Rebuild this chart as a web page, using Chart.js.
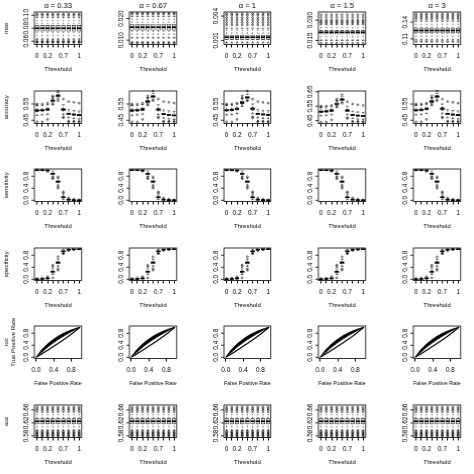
<!DOCTYPE html>
<html><head><meta charset="utf-8">
<script src="https://cdn.jsdelivr.net/npm/chart.js@4"></script>
<style>body{margin:0;background:#fff;width:474px;height:474px;position:relative;overflow:hidden}
.c{position:absolute;width:94.8px;height:79px}</style></head><body>
<script>
const thresholds=['0','0.1','0.2','0.3','0.5','0.7','0.8','0.9','1'];
const thresholdLabels={0:'0',2:'0.2',5:'0.7',8:'1'};
const alphas=['0.33','0.67','1','1.5','3'];
const metrics=['mse','accuracy','sensitivity','specificity','roc','auc'];
// mse per alpha
const mseMed=[0.080,0.016,0.0014,0.021,0.125];
const mseHalf=[0.005,0.0015,0.0003,0.0015,0.005];
const mseWlo=[0.063,0.011,0.0007,0.015,0.108];
const mseWhi=[0.097,0.021,0.0025,0.027,0.142];
const mseOut=[[0.058,0.059,0.060,0.100,0.102],[0.0085,0.009,0.022,0.0225],[0.0029,0.0032,0.0035,0.0038,0.0041,0.0043],[0.013,0.028,0.029,0.030,0.032,0.034],[0.105,0.146,0.149,0.152,0.155]];
const mseRange=[[0.055,0.105],[0.008,0.023],[0.0005,0.0045],[0.012,0.036],[0.10,0.158]];
const mseTicks=[[0.06,0.08,0.10],[0.010,0.020],[0.001,0.004],[0.015,0.030],[0.11,0.14]];
const mseFmt=[[ '0.06','0.08','0.10'],['0.010','0.020'],['0.001','0.004'],['0.015','0.030'],['0.11','0.14']];
// accuracy per alpha x threshold
const accMed=[
[0.510,0.512,0.516,0.570,0.600,0.515,0.490,0.485,0.482],
[0.510,0.512,0.517,0.565,0.595,0.515,0.488,0.483,0.480],
[0.512,0.514,0.520,0.560,0.590,0.520,0.490,0.486,0.484],
[0.512,0.514,0.520,0.565,0.595,0.520,0.490,0.485,0.482],
[0.512,0.514,0.520,0.565,0.595,0.520,0.490,0.485,0.482]];
const accHalf=[0.008,0.008,0.008,0.01,0.01,0.01,0.006,0.006,0.006];
const accWhisk=[0.03,0.03,0.03,0.025,0.02,0.03,0.025,0.025,0.025];
const accOut=[[0.44,0.545,0.55],[0.44,0.55],[0.455,0.555],[0.585,0.6,0.55],[0.63,0.57],[0.47,0.465,0.58],[0.44,0.445,0.565],[0.44,0.445,0.56],[0.44,0.443,0.555]];
const accRange=[[0.43,0.63],[0.43,0.63],[0.43,0.63],[0.43,0.655],[0.43,0.63]];
const accTicks=[[0.45,0.55],[0.45,0.55],[0.45,0.55],[0.45,0.55,0.65],[0.45,0.55]];
// sensitivity / specificity
const sensMed=[1,1,0.995,0.88,0.62,0.10,0.02,0.005,0.0];
const specMed=[0.0,0.01,0.03,0.25,0.55,0.93,0.99,0.998,1];
const ssHalf=[0.004,0.006,0.01,0.035,0.05,0.03,0.01,0.005,0.003];
const ssWhisk=[0.01,0.015,0.025,0.09,0.12,0.08,0.03,0.015,0.008];
const sensOut=[[],[],[0.96],[0.72,0.74],[0.4,0.45,0.78],[0.25,0.28],[0.08],[0.04],[0.02]];
const specOut=[[0.03],[0.05],[0.09],[0.05,0.42,0.47],[0.3,0.35,0.75],[0.85,0.87],[0.95],[0.98],[]];
// ROC
const fpr=[0,0.1,0.2,0.3,0.4,0.5,0.6,0.7,0.8,0.9,1];
const tprUpper=[0,0.2,0.36,0.49,0.6,0.7,0.78,0.85,0.91,0.96,1];
const tprLower=[0,0.13,0.26,0.38,0.49,0.59,0.68,0.77,0.85,0.93,1];
const tprDiag=[0,0.085,0.175,0.27,0.365,0.46,0.56,0.66,0.765,0.88,1];
// auc
const aucMed=[0.625,0.625,0.625,0.625,0.625];
const aucHalf=0.009;
const aucWlo=0.597, aucWhi=0.653;
const aucOut=[0.578,0.581,0.584,0.587,0.590,0.593,0.658,0.663,0.668];
const aucTicks=[0.58,0.62,0.66];

const F='Liberation Sans, Arial, sans-serif';
const boxPlugin={id:'bx',
 beforeDatasetsDraw(ch){const s=ch.canvas.$spec;if(!s||!s.box)return;const c=ch.ctx,x=ch.scales.x,y=ch.scales.y;
  c.save();c.strokeStyle='#000';c.lineWidth=0.6;
  s.box.forEach((b,i)=>{const px=x.getPixelForValue(i),w=x.width/9*0.25;
   c.setLineDash([1.5,1.5]);c.beginPath();c.moveTo(px,y.getPixelForValue(b.lo));c.lineTo(px,y.getPixelForValue(b.hi));c.stroke();
   c.setLineDash([]);c.beginPath();[b.lo,b.hi].forEach(v=>{const py=y.getPixelForValue(v);c.moveTo(px-w,py);c.lineTo(px+w,py);});c.stroke();});
  c.restore();},
 afterDatasetsDraw(ch){const s=ch.canvas.$spec;if(!s)return;const c=ch.ctx,x=ch.scales.x,y=ch.scales.y;c.save();
  if(s.box){s.box.forEach((b,i)=>{const px=x.getPixelForValue(i),w=x.width/9*0.4;
   c.lineWidth=1.6;c.strokeStyle='#000';const py=y.getPixelForValue(b.med);c.beginPath();c.moveTo(px-w,py);c.lineTo(px+w,py);c.stroke();
   c.lineWidth=0.6;b.out.forEach(v=>{c.beginPath();c.arc(px,y.getPixelForValue(v),0.9,0,7);c.stroke();});});}
  const a=ch.chartArea;c.lineWidth=0.8;c.strokeStyle='#000';c.strokeRect(a.left,a.top,a.right-a.left,a.bottom-a.top);
  c.fillStyle='#000';c.font='6.5px '+F;c.textAlign='center';c.textBaseline='bottom';
  s.yt.forEach((v,k)=>{const py=y.getPixelForValue(v);c.beginPath();c.moveTo(a.left,py);c.lineTo(a.left-3,py);c.stroke();
   c.save();c.translate(a.left-5,py);c.rotate(-Math.PI/2);c.fillText(s.yl[k],0,0);c.restore();});
  if(s.ytitle){c.font='6px '+F;s.ytitle.forEach((t,k)=>{c.save();c.translate(6+k*7,(a.top+a.bottom)/2);c.rotate(-Math.PI/2);c.textBaseline='middle';c.fillText(t,0,0);c.restore();});}
  if(s.title){c.font='7.5px '+F;c.textBaseline='middle';c.fillText(s.title,(a.left+a.right)/2,6);}
  c.restore();}};

function mk(r,col,spec){const d=document.createElement('div');d.className='c';d.style.left=(col*94.8)+'px';d.style.top=(r*78.6)+'px';
 const cv=document.createElement('canvas');cv.$spec=spec;d.appendChild(cv);document.body.appendChild(d);
 const isRoc=spec.roc;
 const xs=isRoc?{type:'linear',min:-0.04,max:1.04,afterBuildTicks:sc=>{sc.ticks=[0,0.4,0.8].map(v=>({value:v}));},
   ticks:{font:{size:6.5,family:F},color:'#000',padding:5,maxRotation:0,callback:v=>v.toFixed(1)},grid:{drawOnChartArea:false,tickLength:3,color:'#000'},border:{display:false},
   title:{display:true,text:'False Positive Rate',font:{size:6,family:F},color:'#000',padding:{top:4}}}
  :{type:'category',offset:true,ticks:{font:{size:6.5,family:F},color:'#000',padding:5,maxRotation:0,autoSkip:false,callback:(v,i)=>thresholdLabels[i]||''},
   grid:{drawOnChartArea:false,tickLength:3,color:'#000',offset:false},border:{display:false},
   title:{display:true,text:'Threshold',font:{size:6,family:F},color:'#000',padding:{top:4}}};
 new Chart(cv,{type:isRoc?'line':'bar',
  data:isRoc?{datasets:[
   {data:fpr.map((v,i)=>({x:v,y:tprLower[i]})),borderColor:'#000',borderWidth:0.8,pointRadius:0,fill:false},
   {data:fpr.map((v,i)=>({x:v,y:tprUpper[i]})),borderColor:'#000',backgroundColor:'#000',borderWidth:0.8,pointRadius:0,fill:'-1'},
   {data:fpr.map((v,i)=>({x:v,y:tprDiag[i]})),borderColor:'#000',borderWidth:1.2,pointRadius:0,fill:false}]}
  :{labels:thresholds,datasets:[{data:spec.box.map(b=>[b.q1,b.q3]),backgroundColor:'#d3d3d3',borderColor:'#000',borderWidth:0.7,borderSkipped:false,barPercentage:0.8,categoryPercentage:1}]},
  options:{responsive:true,maintainAspectRatio:false,animation:false,events:[],
   layout:{padding:{left:26,top:12,right:14,bottom:2}},
   plugins:{legend:{display:false},tooltip:{enabled:false}},
   scales:{x:xs,y:{min:spec.ymin,max:spec.ymax,ticks:{display:false},grid:{display:false},border:{display:false}}}},
  plugins:[boxPlugin]});}

for(let a=0;a<5;a++){
 mk(0,a,{title:'\u03b1 = '+alphas[a],ytitle:a===0?['mse']:null,ymin:mseRange[a][0],ymax:mseRange[a][1],yt:mseTicks[a],yl:mseFmt[a],
  box:thresholds.map(()=>({med:mseMed[a],q1:mseMed[a]-mseHalf[a],q3:mseMed[a]+mseHalf[a],lo:mseWlo[a],hi:mseWhi[a],out:mseOut[a]}))});
 mk(1,a,{ytitle:a===0?['accuracy']:null,ymin:accRange[a][0],ymax:accRange[a][1],yt:accTicks[a],yl:accTicks[a].map(v=>v.toFixed(2)),
  box:accMed[a].map((m,i)=>({med:m,q1:m-accHalf[i],q3:m+accHalf[i],lo:m-accWhisk[i],hi:m+accWhisk[i],out:accOut[i]}))});
 mk(2,a,{ytitle:a===0?['sensitivity']:null,ymin:-0.04,ymax:1.04,yt:[0,0.4,0.8],yl:['0.0','0.4','0.8'],
  box:sensMed.map((m,i)=>({med:m,q1:Math.max(0,m-ssHalf[i]),q3:Math.min(1,m+ssHalf[i]),lo:Math.max(0,m-ssWhisk[i]),hi:Math.min(1,m+ssWhisk[i]),out:sensOut[i]}))});
 mk(3,a,{ytitle:a===0?['specificity']:null,ymin:-0.04,ymax:1.04,yt:[0,0.4,0.8],yl:['0.0','0.4','0.8'],
  box:specMed.map((m,i)=>({med:m,q1:Math.max(0,m-ssHalf[i]),q3:Math.min(1,m+ssHalf[i]),lo:Math.max(0,m-ssWhisk[i]),hi:Math.min(1,m+ssWhisk[i]),out:specOut[i]}))});
 mk(4,a,{roc:true,ytitle:a===0?['roc','True Positive Rate']:null,ymin:-0.04,ymax:1.04,yt:[0,0.4,0.8],yl:['0.0','0.4','0.8']});
 mk(5,a,{ytitle:a===0?['auc']:null,ymin:0.575,ymax:0.675,yt:aucTicks,yl:aucTicks.map(v=>v.toFixed(2)),
  box:thresholds.map(()=>({med:aucMed[a],q1:aucMed[a]-aucHalf,q3:aucMed[a]+aucHalf,lo:aucWlo,hi:aucWhi,out:aucOut}))});
}
</script></body></html>
